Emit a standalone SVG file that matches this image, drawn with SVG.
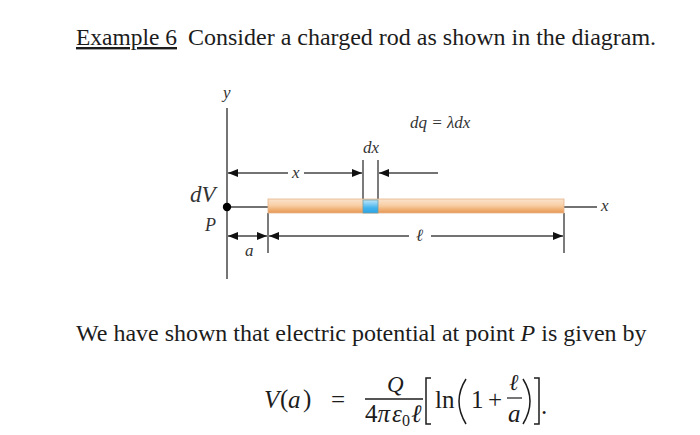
<svg xmlns="http://www.w3.org/2000/svg" width="700" height="435" viewBox="0 0 700 435">
<style>
.t{font-family:"Liberation Serif",serif;fill:#1c1c1c}
.h{font-size:24px}
.i{font-style:italic}
.d{font-family:"Liberation Serif",serif;font-style:italic;fill:#333;font-size:17px}
.l{stroke:#444;stroke-width:1.4;fill:none}
.ax{stroke:#666;stroke-width:1.8;fill:none}
.m{font-family:"Liberation Serif",serif;fill:#1c1c1c;font-size:25px}
.s{stroke:#1c1c1c;stroke-width:1.5;fill:none}
</style>
<defs>
<marker id="a" viewBox="0 0 10 8" refX="10" refY="4" markerWidth="10" markerHeight="8" markerUnits="userSpaceOnUse" orient="auto-start-reverse"><path d="M0 0L10 4L0 8Z" fill="#111"/></marker>
<linearGradient id="r" x1="0" y1="0" x2="0" y2="1"><stop offset="0" stop-color="#fbe3cc"/><stop offset=".45" stop-color="#f8cfa6"/><stop offset="1" stop-color="#e8964f"/></linearGradient>
<linearGradient id="b" x1="0" y1="0" x2="0" y2="1"><stop offset="0" stop-color="#bfe6f8"/><stop offset=".6" stop-color="#45b4ee"/><stop offset="1" stop-color="#2aa3e4"/></linearGradient>
</defs>
<rect width="700" height="435" fill="#fff"/>
<text id="title" class="t h" x="76" y="45"><tspan text-decoration="underline" textLength="101" lengthAdjust="spacingAndGlyphs">Example 6</tspan><tspan x="188">Consider a charged rod as shown in the diagram.</tspan></text>
<g id="connectors">
<path class="ax" d="M227 108V279"/>
<path class="l" d="M227 207H268M564 207H597"/>
<path class="l" d="M363 160V199M378 160V199M268 213V253M564 213V253"/>
<path class="l" marker-start="url(#a)" d="M228 173H288"/>
<path class="l" marker-end="url(#a)" d="M304 173H362"/>
<path class="l" marker-start="url(#a)" d="M379 173H438"/>
<path class="l" marker-start="url(#a)" marker-end="url(#a)" d="M228 236H267"/>
<path class="l" marker-start="url(#a)" d="M269 236H409"/>
<path class="l" marker-end="url(#a)" d="M431 236H563"/>
</g>
<g id="rod"><rect x="268" y="199" width="296" height="14" fill="url(#r)" stroke="#e3b58c" stroke-width=".8"/></g>
<g id="segment"><rect x="363" y="200" width="15" height="13" fill="url(#b)" stroke="#6f9fa8" stroke-width=".8"/></g>
<g id="point-P"><circle cx="227" cy="207" r="4.2" fill="#000"/></g>
<text class="d" x="223" y="98">y</text>
<text class="d" x="292" y="178">x</text>
<text class="d" x="363" y="153">dx</text>
<text class="d" x="410" y="128">dq = λdx</text>
<text class="d" x="601" y="211">x</text>
<text class="d" x="245" y="256">a</text>
<text class="d" x="416" y="241">ℓ</text>
<text x="190" y="202" font-family="Liberation Serif, serif" font-style="italic" font-size="23" fill="#333">dV</text>
<text x="205" y="231" font-family="Liberation Serif, serif" font-style="italic" font-size="18" fill="#333">P</text>
<text id="line2" class="t h" x="76" y="341">We have shown that electric potential at point <tspan class="i">P</tspan> is given by</text>
<g id="formula">
<text class="m i" x="264" y="408">V</text><text class="m" x="280" y="407">(</text><text class="m i" x="288" y="408">a</text><text class="m" x="303" y="407">)</text>
<text class="m" x="331" y="408">=</text>
<text class="m i" x="387" y="392" style="font-size:23px">Q</text>
<path d="M365 399H423" stroke="#1c1c1c" stroke-width="1.3" fill="none"/>
<text class="m" x="365" y="422">4<tspan class="i">π</tspan></text>
<text class="m i" x="392" y="422">ε</text><text x="402" y="426" font-family="Liberation Serif, serif" font-size="16" fill="#1c1c1c">0</text><text class="m i" x="411" y="422">ℓ</text>
<path d="M431 378H426V424H431M534 378H539V424H534" class="s"/>
<text class="m" x="435" y="408">ln</text>
<path d="M466 379Q452 401 466 424M523 379Q537 401 523 424" class="s"/>
<text class="m" x="471" y="408">1</text><text class="m" x="488" y="408">+</text>
<text class="m i" x="509" y="390" style="font-size:23px">ℓ</text>
<path d="M507 398H522" stroke="#1c1c1c" stroke-width="1.2" fill="none"/>
<text class="m i" x="508" y="422">a</text>
<text class="m" x="541" y="414">.</text>
</g>
</svg>
